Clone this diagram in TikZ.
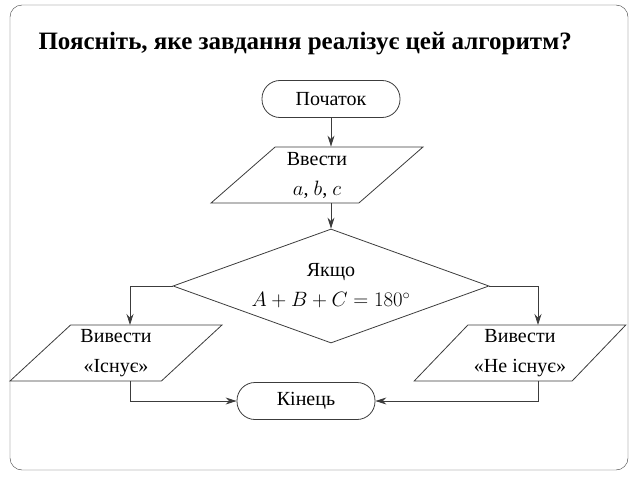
\documentclass[tikz,border=0pt]{standalone}
\usepackage{fontspec}
\setmainfont{Liberation Serif}
\usetikzlibrary{shapes.geometric, arrows.meta, positioning}
\definecolor{linegray}{RGB}{60,60,60}

\begin{document}
\begin{tikzpicture}[
    x=1pt, y=-1pt,
    term/.style={rectangle, rounded corners=18pt, draw=linegray, thick, minimum width=138pt, minimum height=37pt, font=\fontsize{20}{22}\selectfont},
    io/.style={trapezium, trapezium left angle=45, trapezium right angle=135, trapezium stretches=true, draw=linegray, thick, minimum width=212pt, minimum height=56pt, inner sep=0pt, align=center, font=\fontsize{20}{30}\selectfont},
    cond/.style={diamond, draw=linegray, thick, minimum width=316pt, minimum height=114pt, inner sep=0pt},
    arrow/.style={-{Stealth[length=11pt,width=7pt]}, thick, draw=linegray}
]
    \useasboundingbox (0,0) rectangle (638,479);
    % frame and question
    \draw[linegray, rounded corners=12pt] (10,5) rectangle (628,470);
    \node[anchor=base west, font=\fontsize{25}{30}\selectfont\bfseries] (title) at (35,49) {Поясніть, яке завдання реалізує цей алгоритм?};

    % blocks
    \node[term] (start) at (331,99) {Початок};
    \node[io] (input) at (317,175) {Ввести\\$a$, $b$, $c$};
    \node[cond, label={[align=center, font=\fontsize{20}{30}\selectfont]center:Якщо\\$A+B+C=180^\circ$}] (check) at (331,286) {};
    \node[io] (yes) at (116,353) {Вивести\\«Існує»};
    \node[io] (no) at (520,353) {Вивести\\«Не існує»};
    \node[term] (stop) at (306,401) {Кінець};

    % connectors
    \draw[arrow] (start) -- (start|-input.north);
    \draw[arrow] (input.south-|start) -- (check.north);
    \draw[arrow] (check.west) -| (130,325);
    \draw[arrow] (check.east) -| (538,325);
    \draw[arrow] (130,381) |- (stop.west);
    \draw[arrow] (538,381) |- (stop.east);
\end{tikzpicture}
\end{document}
